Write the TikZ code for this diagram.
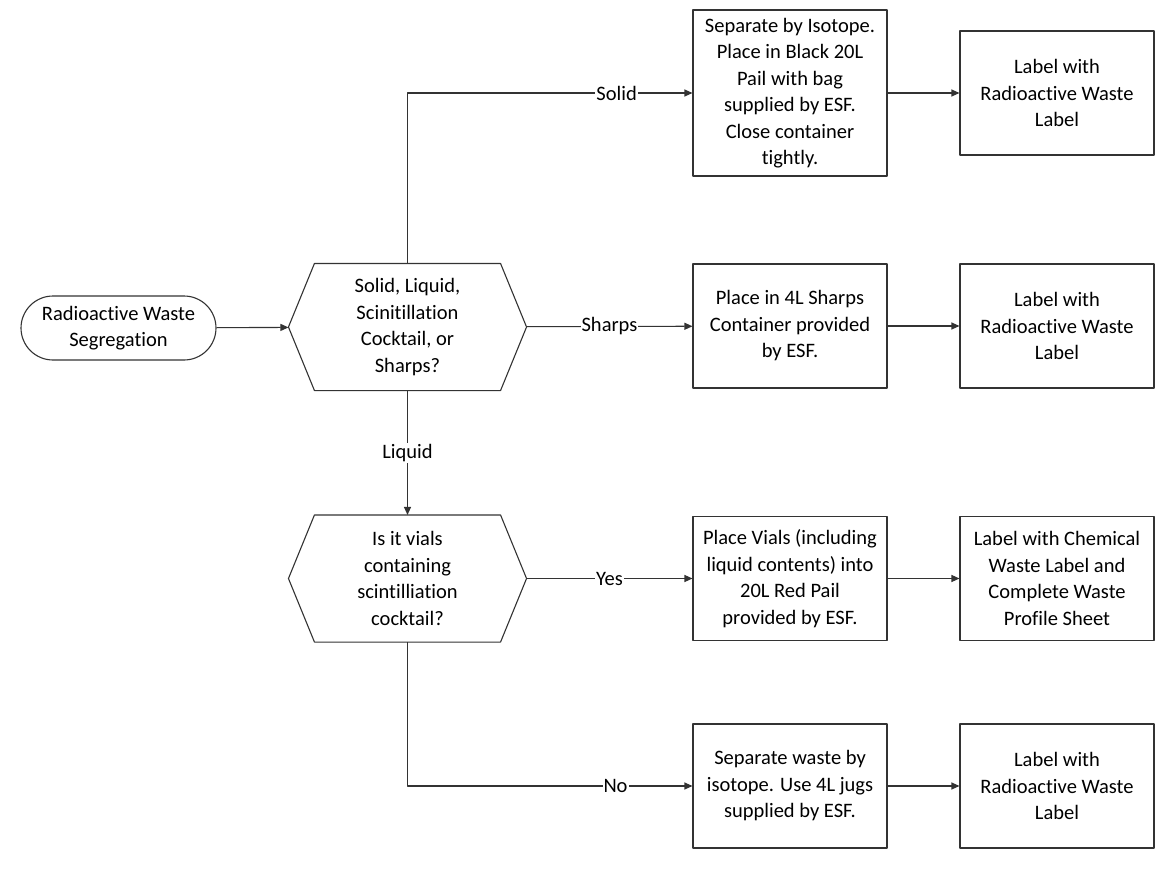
\documentclass[tikz,border=0pt]{standalone}
\usepackage{fontspec}
\setmainfont{Carlito}[Ligatures=NoCommon]
\usetikzlibrary{arrows.meta}

\tikzset{
  box/.style={draw, minimum width=194, minimum height=124, align=center, inner sep=2pt},
  startbox/.style={draw, rounded corners=32, minimum width=195, minimum height=64, align=center, inner sep=2pt},
  hexbox/.style={minimum width=237, minimum height=126, align=center, inner sep=0pt},
  lbl/.style={fill=white, inner sep=1pt},
}
% hexagon round a rectangular node
\newcommand{\drawhex}[1]{%
  \draw (#1.west) -- ([xshift=26pt]#1.north west) -- ([xshift=-26pt]#1.north east)
    -- (#1.east) -- ([xshift=-26pt]#1.south east) -- ([xshift=26pt]#1.south west) -- cycle;}

\begin{document}
\begin{tikzpicture}[x=1pt, y=-1pt, line width=1.1pt, line join=round, draw=black!80,
    >={Triangle[length=8pt,width=7pt]}, font=\fontsize{20.5}{26.5}\selectfont]
  \useasboundingbox (0,0) rectangle (1168,872);

  \node[startbox] (start) at (118.5,328) {Radioactive Waste\\Segregation};
  \node[hexbox] (q1) at (407.5,327) {Solid, Liquid,\\Scinitillation\\Cocktail, or\\Sharps?};
  \drawhex{q1}
  \node[hexbox] (q2) at (407.5,578.5) {Is it vials\\containing\\scintilliation\\cocktail?};
  \drawhex{q2}

  \node[box, minimum height=166] (solid) at (790,93) {Separate by Isotope.\\Place in Black 20L\\Pail with bag\\supplied by ESF.\\Close container\\tightly.};
  \node[box] (sharps) at (790,326) {Place in 4L Sharps\\Container provided\\by ESF.};
  \node[box] (vials) at (790,578.5) {Place Vials (including\\liquid contents) into\\20L Red Pail\\provided by ESF.};
  \node[box] (jugs) at (790,786) {Separate waste by\\isotope. Use 4L jugs\\supplied by ESF.};

  \node[box] (lab1) at (1057,93) {Label with\\Radioactive Waste\\Label};
  \node[box] (lab2) at (1057,326) {Label with\\Radioactive Waste\\Label};
  \node[box] (lab3) at (1057,578.5) {Label with Chemical\\Waste Label and\\Complete Waste\\Profile Sheet};
  \node[box] (lab4) at (1057,786) {Label with\\Radioactive Waste\\Label};

  \draw[->] (start) -- (q1);
  \draw[->] (q1.north) |- (solid) node[lbl, pos=0.867] {Solid};
  \draw[->] (q1) -- (sharps) node[lbl, midway] {Sharps};
  \draw[->] (q1) -- (q2) node[lbl, midway] {Liquid};
  \draw[->] (q2) -- (vials) node[lbl, midway] {Yes};
  \draw[->] (q2.south) |- (jugs) node[lbl, pos=0.865] {No};

  \draw[->] (solid) -- (lab1);
  \draw[->] (sharps) -- (lab2);
  \draw[->] (vials) -- (lab3);
  \draw[->] (jugs) -- (lab4);
\end{tikzpicture}
\end{document}
